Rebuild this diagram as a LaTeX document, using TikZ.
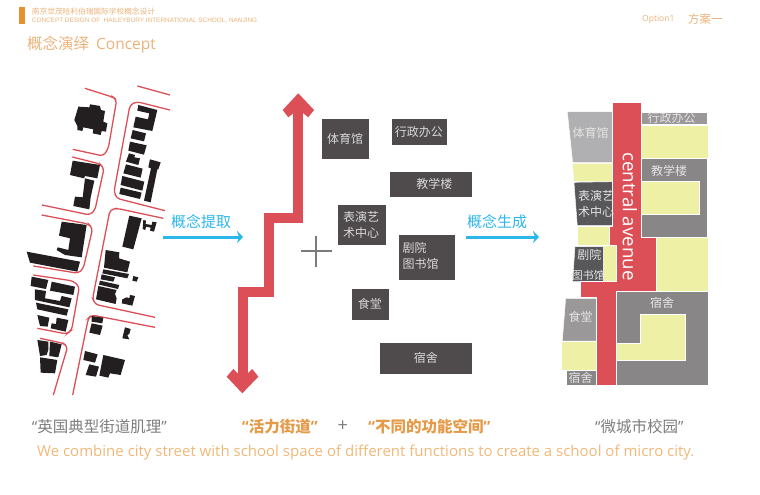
\documentclass[tikz,border=0pt]{standalone}
\usepackage{fontspec}
\setmainfont{Noto Sans CJK SC}
\newfontfamily\latfont{Open Sans}
\newfontfamily\headfont{Liberation Sans}
\usetikzlibrary{arrows.meta}
\definecolor{bldblack}{HTML}{231F20}
\definecolor{roadred}{HTML}{DC4F57}
\definecolor{flowblue}{HTML}{2CB7EA}
\definecolor{blockdark}{HTML}{4F4A4B}
\definecolor{planyellow}{HTML}{EEF0A5}
\definecolor{plangrey}{HTML}{888687}
\definecolor{planmid}{HTML}{9B989A}
\definecolor{planlight}{HTML}{B0B0B2}
\definecolor{plandark}{HTML}{58575A}
\definecolor{headorange}{HTML}{E8922E}
\definecolor{softorange}{HTML}{EAB27A}
\definecolor{capgrey}{HTML}{7D7D7D}
\definecolor{lineorange}{HTML}{F0B878}
\definecolor{keyorange}{HTML}{E59A48}
\newcommand{\qt}[1]{{\latfont “}#1{\latfont ”}}
\begin{document}
\begin{tikzpicture}[x=1pt, y=-1pt,
  road/.style={draw=roadred, line width=1.3pt, rounded corners=3.5pt},
  bld/.style={fill=bldblack},
  block/.style={fill=blockdark, draw=white, line width=0.3pt, text=white!85!black, align=center, inner sep=0pt, font=\fontsize{12}{16}\selectfont},
  area/.style={fill=#1, draw=white, line width=0.4pt},
  area/.default=plangrey,
  plantext/.style={text=white!90!black, align=center, inner sep=0pt, font=\fontsize{12}{16}\selectfont},
  flowlabel/.style={text=flowblue, inner sep=0pt, font=\fontsize{15}{18}\selectfont},
  caption/.style={text=capgrey, inner sep=0pt, anchor=west, font=\fontsize{15.5}{18}\selectfont},
  keyword/.style={text=keyorange, inner sep=0pt, anchor=west, font=\fontsize{15.5}{18}\selectfont\bfseries},
  flow/.style={draw=flowblue, line width=3pt, -{Stealth[length=6pt, width=12pt, inset=2pt]}}]
\useasboundingbox (0,0) rectangle (760,495);

\fill[headorange] (19,7.3) rectangle (25,24.3);
\node[text=softorange, anchor=west, inner sep=0pt, font=\fontsize{7.7}{9}\selectfont] (title) at (31.7,12) {南京世茂哈利伯瑞国际学校概念设计};
\node[text=softorange, anchor=west, inner sep=0pt, font=\fontsize{6.4}{8}\selectfont\headfont] (subtitle) at (31.7,21) {CONCEPT DESIGN OF\ \ HAILEYBURY INTERNATIONAL SCHOOL, NANJING};
\node[text=softorange, anchor=west, inner sep=0pt, font=\fontsize{15.5}{18}\selectfont] (head) at (27,45) {概念演绎\ \ {\latfont Concept}};
\node[text=softorange, anchor=west, inner sep=0pt, font=\fontsize{8.5}{11}\selectfont\latfont] (opt) at (642,19) {Option1};
\node[text=softorange, anchor=west, inner sep=0pt, font=\fontsize{11.5}{14}\selectfont] (plan) at (688,19) {方案一};

\begin{scope}[shift={(20,70)}, scale=0.3333]
\draw[road] (195,55) -- (280,82) -- (290,90) -- (265,235) -- (250,258) -- (158,238);
\draw[road] (157,261) -- (240,282) -- (252,295) -- (225,420) -- (210,435) -- (66,405);
\draw[road] (65,435) -- (205,462) -- (218,475) -- (190,595) -- (175,610) -- (40,588);
\draw[road] (352,48) -- (450,75);
\draw[road] (450,120) -- (350,95) -- (330,105) -- (282,365) -- (290,385) -- (435,422);
\draw[road] (430,445) -- (290,415) -- (270,420) -- (218,685) -- (225,703) -- (405,742);
\fill[bld] (175,110) -- (208,112) -- (210,103) -- (240,108) -- (243,120) -- (255,123) -- (250,155) -- (262,160) -- (258,185) -- (245,183) -- (242,195) -- (218,190) -- (220,178) -- (190,172) -- (187,183) -- (172,180) -- (172,168) -- (163,150) -- cycle;
\fill[bld] (355,105) -- (412,120) -- (397,183) -- (340,172) -- (347,140) -- (384,148) -- (388,130) -- (352,122) -- cycle;
\fill[bld] (338,180) -- (378,190) -- (372,214) -- (332,205) -- cycle;
\fill[bld] (330,215) -- (380,226) -- (372,254) -- (325,242) -- cycle;
\fill[bld] (327,250) -- (345,255) -- (343,262) -- (360,265) -- (355,285) -- (318,275) -- cycle;
\fill[bld] (318,283) -- (368,296) -- (362,323) -- (310,310) -- cycle;
\fill[bld] (307,318) -- (373,335) -- (367,362) -- (302,345) -- cycle;
\fill[bld] (302,353) -- (365,368) -- (360,387) -- (298,372) -- cycle;
\fill[bld] (390,268) -- (422,277) -- (415,298) -- (412,298) -- (392,397) -- (372,392) -- (393,295) -- (385,292) -- cycle;
\fill[bld] (158,272) -- (240,285) -- (232,325) -- (195,318) -- (192,325) -- (150,315) -- cycle;
\fill[bld] (195,325) -- (223,332) -- (212,382) -- (208,418) -- (160,408) -- (165,380) -- (188,382) -- cycle;
\fill[bld] (370,450) -- (378,452) -- (377,462) -- (395,465) -- (397,455) -- (410,457) -- (402,485) -- (390,482) -- (392,473) -- (378,470) -- (376,480) -- (368,477) -- cycle;
\end{scope}

\begin{scope}[shift={(20,220)}, scale=0.3333]
\draw[road] (40,165) -- (160,183) -- (178,200) -- (155,330) -- (140,342) -- (52,325);
\draw[road] (60,355) -- (130,370) -- (143,380) -- (100,525);
\draw[road] (405,322) -- (215,285) -- (205,295) -- (158,525);
\fill[bld] (125,5) -- (200,15) -- (185,112) -- (135,105) -- (110,90) -- (113,82) -- (145,90) -- (150,55) -- (117,47) -- cycle;
\fill[bld] (20,95) -- (180,125) -- (172,155) -- (30,128) -- cycle;
\fill[bld] (328,-13) -- (365,-5) -- (340,88) -- (307,80) -- cycle;
\fill[bld] (257,90) -- (298,97) -- (297,115) -- (330,125) -- (322,157) -- (252,143) -- cycle;
\fill[bld] (250,148) -- (327,162) -- (322,175) -- (247,160) -- cycle;
\fill[bld] (245,163) -- (285,172) -- (280,185) -- (242,178) -- cycle;
\fill[bld] (240,182) -- (298,195) -- (294,207) -- (237,194) -- cycle;
\fill[bld] (235,198) -- (290,210) -- (285,222) -- (290,235) -- (287,252) -- (228,238) -- cycle;
\fill[bld] (340,168) -- (355,172) -- (350,185) -- (337,182) -- cycle;
\fill[bld] (320,232) -- (328,235) -- (330,225) -- (345,228) -- (337,257) -- (305,250) -- (307,238) -- cycle;
\fill[bld] (35,170) -- (85,180) -- (78,207) -- (32,198) -- cycle;
\fill[bld] (95,185) -- (165,200) -- (160,225) -- (90,212) -- cycle;
\fill[bld] (45,208) -- (78,213) -- (75,235) -- (120,243) -- (125,228) -- (155,235) -- (148,262) -- (45,240) -- cycle;
\fill[bld] (48,248) -- (145,268) -- (140,287) -- (52,268) -- cycle;
\fill[bld] (52,285) -- (88,293) -- (83,320) -- (60,318) -- cycle;
\fill[bld] (110,293) -- (145,300) -- (137,335) -- (92,325) -- (95,310) -- (108,312) -- cycle;
\fill[bld] (52,360) -- (85,365) -- (85,390) -- (80,405) -- (60,408) -- cycle;
\fill[bld] (90,365) -- (125,373) -- (115,412) -- (88,408) -- cycle;
\fill[bld] (60,412) -- (112,420) -- (105,460) -- (62,458) -- cycle;
\fill[bld] (215,288) -- (250,293) -- (247,310) -- (215,305) -- cycle;
\fill[bld] (215,310) -- (248,317) -- (240,345) -- (208,338) -- cycle;
\fill[bld] (315,322) -- (332,327) -- (328,342) -- (322,345) -- (328,358) -- (307,355) -- cycle;
\fill[bld] (195,393) -- (233,403) -- (225,428) -- (190,420) -- cycle;
\fill[bld] (208,433) -- (237,440) -- (228,470) -- (197,465) -- cycle;
\fill[bld] (250,405) -- (315,420) -- (302,465) -- (270,460) -- (265,473) -- (238,467) -- cycle;
\end{scope}

\coordinate (f1a) at (163,237);
\coordinate (f1b) at (243,237);
\coordinate (f2a) at (466,237);
\coordinate (f2b) at (539,237);
\draw[flow] (f1a) -- (f1b);
\draw[flow] (f2a) -- (f2b);
\node[flowlabel] (extract) at (201,222) {概念提取};
\node[flowlabel] (generate) at (497,222) {概念生成};

\draw[roadred, line width=10pt] (298.3,110) -- (298.3,218.3) -- (269.3,218.3) -- (269.3,291.7) -- (242.7,291.7) -- (242.7,380);
\fill[roadred] (298.3,93.3) -- (314,110) -- (308.3,117.3) -- (303.3,113.3) -- (293.3,113.3) -- (288.3,117.3) -- (282.7,110) -- cycle;
\fill[roadred] (242.3,393.3) -- (258.3,376.7) -- (252.3,369) -- (247.7,373.3) -- (237.7,373.3) -- (233.3,369) -- (226.7,376.7) -- cycle;

\draw[planmid!80!black, line width=1.8pt] (300.7,251.3) -- (331.7,251.3);
\draw[planmid!80!black, line width=1.8pt] (315.7,236) -- (315.7,267);

\node[block, minimum width=48.6pt, minimum height=41pt] (gym) at (345,138.8) {体育馆};
\node[block, minimum width=56.3pt, minimum height=26.7pt] (admin) at (418.9,131.7) {行政办公};
\node[block, minimum width=83pt, minimum height=26.6pt] (teach) at (430.8,184) {\hspace{7pt}教学楼};
\node[block, minimum width=49pt, minimum height=41pt] (perform) at (361.2,224.8) {表演艺\\术中心};
\node[block, minimum width=56.4pt, minimum height=46pt, align=left] (theatre) at (426.5,257) {\hspace{-12pt}\begin{tabular}{@{}l@{}}剧院\\图书馆\end{tabular}};
\node[block, minimum width=37.7pt, minimum height=31.4pt] (canteen) at (369.9,304) {食堂};
\node[block, minimum width=93pt, minimum height=31.4pt] (dorm) at (425.8,358) {宿舍};

\begin{scope}[shift={(550,95)}, scale=0.3333]
\fill[area=planyellow] (275,90) rectangle (475,190);
\fill[area=planyellow] (67,205) -- (188,205) -- (188,260) -- (72,260) -- cycle;
\fill[area=planyellow] (82,395) rectangle (178,450);
\fill[area=planyellow] (160,450) rectangle (200,560);
\fill[area=planyellow] (320,428) rectangle (475,588);
\fill[area=planyellow] (33,740) rectangle (140,825);
\path[area=planlight] (52,50) -- (188,50) -- (188,203) -- (68,203) -- cycle;
\path[area=planmid] (275,52) rectangle (472,88);
\path[area] (275,190) rectangle (473,427);
\path[area=planyellow] (275,260) rectangle (447,358);
\path[area=plandark] (72,262) -- (203,260) -- (203,392) -- (82,392) -- cycle;
\path[area=plandark] (75,455) -- (160,455) -- (160,560) -- (68,560) -- cycle;
\path[area=planmid] (47,610) -- (140,610) -- (140,738) -- (37,738) -- cycle;
\path[area] (48,827) rectangle (140,870);
\path[area] (200,588) rectangle (475,870);
\path[area=planyellow] (272,658) -- (405,658) -- (405,795) -- (200,795) -- (200,745) -- (272,745) -- cycle;
\path[area=roadred] (188,22) -- (275,22) -- (275,428) -- (318,428) -- (318,588) -- (200,588) -- (200,870) -- (140,870) -- (140,608) -- (92,608) -- (92,560) -- (200,560) -- (200,450) -- (178,450) -- (178,395) -- (188,395) -- cycle;
\end{scope}

\node[plantext] (pgym) at (590.7,133) {体育馆};
\node[plantext] (padmin) at (671.7,118.3) {行政办公};
\node[plantext] (pteach) at (669,171) {教学楼};
\node[plantext] (pperform) at (596,204) {表演艺\\术中心};
\node[plantext] (ptheatre) at (589.3,255) {剧院};
\node[plantext, font=\fontsize{11}{13}\selectfont] (plib) at (588.3,275) {图书馆};
\node[plantext] (pcanteen) at (580.7,317.3) {食堂};
\node[plantext] (pdormb) at (580.7,378.3) {宿舍};
\node[plantext] (pdorm) at (662,303.3) {宿舍};
\node[rotate=-90, text=white, inner sep=0pt, font=\fontsize{18.7}{22}\selectfont\latfont] (avenue) at (630,216.5) {central avenue};

\node[caption] (cap1) at (31.7,426.7) {\qt{英国典型街道肌理}};
\node[keyword] (cap2) at (241.7,426.7) {\qt{活力街道}};
\node[caption, anchor=center, font=\fontsize{18}{20}\selectfont\latfont] (capplus) at (342.7,425.7) {+};
\node[keyword] (cap3) at (368,426.7) {\qt{不同的功能空间}};
\node[caption] (cap4) at (595,426.7) {\qt{微城市校园}};
\node[text=lineorange, anchor=west, inner sep=0pt, font=\fontsize{15}{20}\selectfont\latfont] (sentence) at (37,453) {We combine city street with school space of different functions to create a school of micro city.};
\end{tikzpicture}
\end{document}
